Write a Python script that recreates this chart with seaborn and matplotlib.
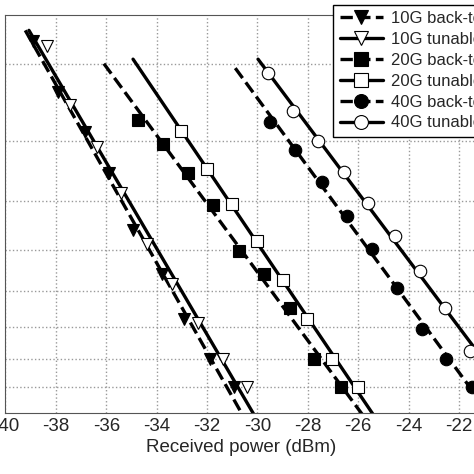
import numpy as np
import matplotlib
matplotlib.use("Agg")
import matplotlib.pyplot as plt
import seaborn as sns

sns.set_style("white")
plt.rcParams['font.family'] = ['Liberation Sans', 'DejaVu Sans']

# received power (dBm) and -log10(BER)
x_10g_b2b = [-38.9, -37.9, -36.85, -35.9, -34.95, -33.8, -32.9, -31.9, -30.95]
q_10g_b2b = [2.76, 3.33, 3.87, 4.51, 5.58, 6.55, 7.75, 9.0, 10.0]
x_10g_tun = [-38.35, -37.45, -36.35, -35.4, -34.4, -33.4, -32.35, -31.35, -30.4]
q_10g_tun = [2.81, 3.50, 4.09, 4.86, 5.86, 6.80, 7.87, 9.0, 10.0]
x_20g_b2b = [-34.75, -33.75, -32.75, -31.75, -30.75, -29.75, -28.7, -27.75, -26.7]
q_20g_b2b = [3.70, 4.05, 4.51, 5.08, 6.03, 6.55, 7.44, 9.0, 10.0]
x_20g_tun = [-33.05, -32.0, -31.0, -30.0, -29.0, -28.05, -27.05, -26.0]
q_20g_tun = [3.85, 4.44, 5.06, 5.81, 6.70, 7.75, 9.0, 10.0]
x_40g_b2b = [-29.5, -28.5, -27.45, -26.45, -25.45, -24.45, -23.45, -22.5, -21.5]
q_40g_b2b = [3.73, 4.14, 4.66, 5.28, 5.97, 6.90, 8.05, 9.0, 10.0]
x_40g_tun = [-29.6, -28.6, -27.6, -26.55, -25.6, -24.55, -23.55, -22.55, -21.55]
q_40g_tun = [3.10, 3.58, 4.00, 4.49, 5.04, 5.69, 6.48, 7.44, 8.74]

labels = ["10G back-to-back", "10G tunable", "20G back-to-back", "20G tunable",
          "40G back-to-back", "40G tunable"]
yticks = [3, 4, 5, 6, 7, 8, 9, 10]

series = [
    (x_10g_b2b, q_10g_b2b, 'v', 'black', '--', 2.65),
    (x_10g_tun, q_10g_tun, 'v', 'white', '-', 2.65),
    (x_20g_b2b, q_20g_b2b, 's', 'black', '--', 3.0),
    (x_20g_tun, q_20g_tun, 's', 'white', '-', 2.95),
    (x_40g_b2b, q_40g_b2b, 'o', 'black', '--', 3.05),
    (x_40g_tun, q_40g_tun, 'o', 'white', '-', 2.95),
]

fig = plt.figure(figsize=(4.74, 4.74), dpi=100)
ax = fig.add_axes([0.0116, 0.129, 0.994, 0.84])
ax.set_yscale('log')

for (xs, qs, mk, fc, ls, qtop), lab in zip(series, labels):
    xs = np.array(xs); lq = np.log10(qs)
    a, b = np.polyfit(lq, xs, 1)
    lqs = np.log10([qtop, 11.5])
    ax.plot(a * lqs + b, 10 ** lqs, color='black', ls=ls, lw=2.4, zorder=2)
    sns.lineplot(x=xs, y=qs, ax=ax, marker=mk, markersize=9, markerfacecolor=fc,
                 markeredgecolor='black', markeredgewidth=0.8, linestyle='none', zorder=3)
    ax.plot([], [], color='black', ls=ls, lw=2.4, marker=mk, markersize=10,
            markerfacecolor=fc, markeredgecolor='black', markeredgewidth=0.8, label=lab)

ax.set_xlim(-40, -21.3)
ax.set_ylim(11, 2.5)
ax.set_xticks(np.arange(-40, -21, 2))
ax.set_xticklabels([str(v) for v in range(-40, -21, 2)], fontsize=13.5)
ax.yaxis.set_major_locator(matplotlib.ticker.FixedLocator(yticks))
ax.yaxis.set_minor_locator(matplotlib.ticker.NullLocator())
ax.set_yticklabels([''] * len(yticks))
ax.tick_params(direction='in', length=4, color='black')
ax.grid(True, ls=':', color='#999999', lw=1)
for s in ax.spines.values():
    s.set_color('#555555')
ax.set_xlabel("Received power (dBm)", fontsize=13.5, labelpad=3)

leg = ax.legend(loc='upper left', bbox_to_anchor=(0.685, 1.008), bbox_transform=fig.transFigure,
                frameon=True, fancybox=False, fontsize=12, handlelength=2.6,
                labelspacing=0.35, borderpad=0.4, handletextpad=0.5)
leg.get_frame().set_edgecolor('black')
leg.get_frame().set_linewidth(1)
leg.get_frame().set_alpha(1)

fig.savefig("out.png", dpi=100)
